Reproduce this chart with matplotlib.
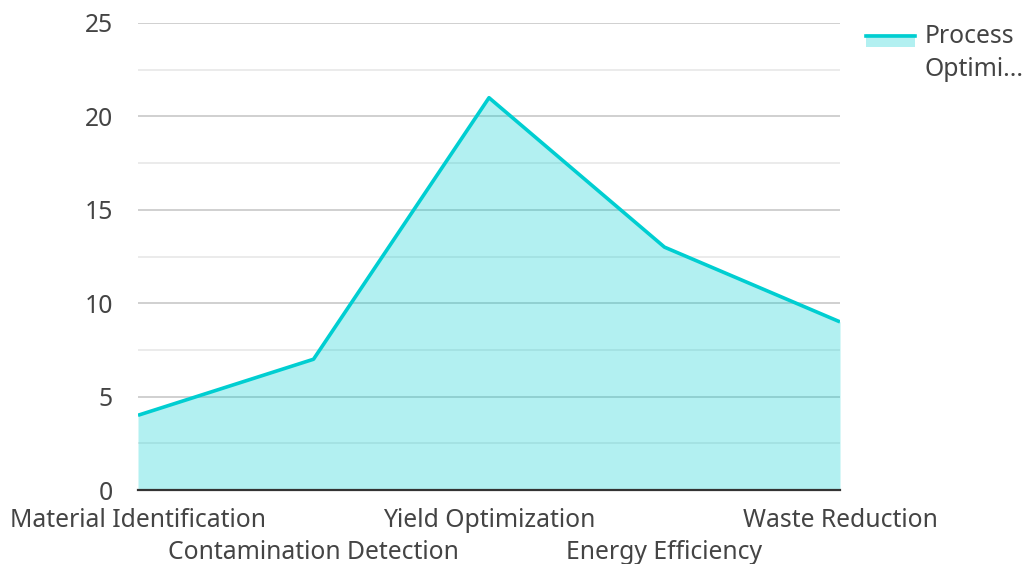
import matplotlib.pyplot as plt
from matplotlib.lines import Line2D
from matplotlib.patches import Rectangle

categories = ['Material Identification', 'Contamination Detection', 'Yield Optimization',
              'Energy Efficiency', 'Waste Reduction']
values = [4, 7, 21, 13, 9]
series_label = 'Process\nOptimi...'

line_color = '#00CED1'
text_color = '#444444'
fs = 17.8

plt.rcParams['font.family'] = ['Noto Sans', 'DejaVu Sans']

fig = plt.figure(figsize=(10.26, 5.64), dpi=100)
ax = fig.add_axes([138 / 1026, 1 - 490 / 564, (840 - 138) / 1026, (490 - 23) / 564])

x = list(range(len(categories)))
ax.fill_between(x, values, 0, color=line_color, alpha=0.3, linewidth=0, zorder=2)
ax.plot(x, values, color=line_color, linewidth=2.6, zorder=3, solid_capstyle='butt')

ax.set_xlim(0, len(categories) - 1)
ax.set_ylim(0, 25)

# grid: major every 5, minor every 2.5
ax.set_yticks([0, 5, 10, 15, 20, 25])
ax.set_yticks([2.5, 7.5, 12.5, 17.5, 22.5], minor=True)
ax.grid(axis='y', which='major', color='#c8c8c8', linewidth=1.2, zorder=1)
ax.grid(axis='y', which='minor', color='#e8e8e8', linewidth=1.2, zorder=1)
ax.set_axisbelow(True)

for s in ['top', 'right', 'left']:
    ax.spines[s].set_visible(False)
ax.spines['bottom'].set_color('#333333')
ax.spines['bottom'].set_linewidth(1.6)
ax.spines['bottom'].set_zorder(4)

ax.tick_params(axis='y', which='both', length=0, pad=18, labelsize=fs, labelcolor=text_color)

# categories staggered on two rows: even ones on major ticks, odd ones on minor ticks
ax.set_xticks(x[0::2])
ax.set_xticklabels(categories[0::2])
ax.set_xticks(x[1::2], minor=True)
ax.set_xticklabels(categories[1::2], minor=True)
ax.tick_params(axis='x', which='major', length=0, labelsize=fs, labelcolor=text_color, pad=13)
ax.tick_params(axis='x', which='minor', length=0, labelsize=fs, labelcolor=text_color, pad=36)

# legend drawn by hand at top right
fig.add_artist(Rectangle((866 / 1026, 1 - 47 / 564), 49 / 1026, 13 / 564,
                         transform=fig.transFigure, facecolor=line_color, alpha=0.3, linewidth=0))
fig.add_artist(Line2D([866 / 1026, 915 / 1026], [1 - 35.5 / 564, 1 - 35.5 / 564],
                      transform=fig.transFigure, color=line_color, linewidth=2.6))
fig.text(925 / 1026, 1 - 24 / 564, series_label, ha='left', va='top', fontsize=fs,
         color=text_color, linespacing=1.4)

plt.savefig('out.png', dpi=100)
